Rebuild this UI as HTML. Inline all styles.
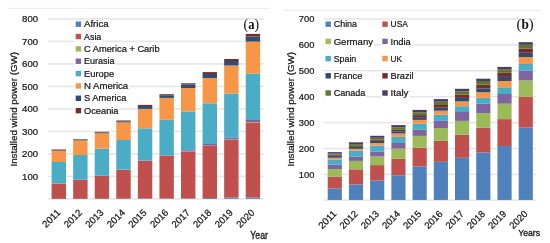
<!DOCTYPE html>
<html lang="en">
<head>
<meta charset="utf-8">
<title>Installed wind power</title>
<style>
html,body{margin:0;padding:0;background:#fff;}
body{width:550px;height:243px;overflow:hidden;}
svg{display:block;}
svg text{font-family:"Liberation Sans",sans-serif;font-size:9.5px;fill:#141414;stroke:#141414;stroke-width:0.22px;}
</style>
</head>
<body>
<svg width="550" height="243" viewBox="0 0 550 243">
<rect width="550" height="243" fill="#fff"/>
<rect x="8" y="7.8" width="262" height="1.3" fill="#eeeeee"/>
<rect x="48" y="18.1" width="215.6" height="1.6" fill="#e6e6e6"/>
<rect x="48" y="40.6" width="215.6" height="1.6" fill="#e6e6e6"/>
<rect x="48" y="63.1" width="215.6" height="1.6" fill="#e6e6e6"/>
<rect x="48" y="85.6" width="215.6" height="1.6" fill="#e6e6e6"/>
<rect x="48" y="108.1" width="215.6" height="1.6" fill="#e6e6e6"/>
<rect x="48" y="130.6" width="215.6" height="1.6" fill="#e6e6e6"/>
<rect x="48" y="153.1" width="215.6" height="1.6" fill="#e6e6e6"/>
<rect x="48" y="175.6" width="215.6" height="1.6" fill="#e6e6e6"/>
<rect x="48" y="198.1" width="215.6" height="1.6" fill="#e6e6e6"/>
<text x="38.1" y="22.3" text-anchor="end" textLength="16" lengthAdjust="spacingAndGlyphs" style="font-size:9.7px;">800</text>
<text x="38.1" y="44.8" text-anchor="end" textLength="16" lengthAdjust="spacingAndGlyphs" style="font-size:9.7px;">700</text>
<text x="38.1" y="67.3" text-anchor="end" textLength="16" lengthAdjust="spacingAndGlyphs" style="font-size:9.7px;">600</text>
<text x="38.1" y="89.8" text-anchor="end" textLength="16" lengthAdjust="spacingAndGlyphs" style="font-size:9.7px;">500</text>
<text x="38.1" y="112.3" text-anchor="end" textLength="16" lengthAdjust="spacingAndGlyphs" style="font-size:9.7px;">400</text>
<text x="38.1" y="134.8" text-anchor="end" textLength="16" lengthAdjust="spacingAndGlyphs" style="font-size:9.7px;">300</text>
<text x="38.1" y="157.3" text-anchor="end" textLength="16" lengthAdjust="spacingAndGlyphs" style="font-size:9.7px;">200</text>
<text x="38.1" y="179.8" text-anchor="end" textLength="16" lengthAdjust="spacingAndGlyphs" style="font-size:9.7px;">100</text>
<text transform="translate(17.4,109.3) rotate(-90)" text-anchor="middle" textLength="114.5" lengthAdjust="spacingAndGlyphs" style="font-size:9.2px">Installed wind power (GW)</text>
<rect x="51.6" y="183.6" width="14.4" height="15.25" fill="#C0504D"/>
<rect x="51.6" y="183.4" width="14.4" height="0.2" fill="#8064A2"/>
<rect x="51.6" y="162.0" width="14.4" height="21.4" fill="#4BACC6"/>
<rect x="51.6" y="150.8" width="14.4" height="11.2" fill="#F79646"/>
<rect x="51.6" y="150.2" width="14.4" height="0.6" fill="#2C4D75"/>
<rect x="51.6" y="149.5" width="14.4" height="0.7" fill="#772C2A"/>
<text transform="translate(61.05,213.2) rotate(-45)" text-anchor="end" textLength="21.2" lengthAdjust="spacingAndGlyphs" style="font-size:9.6px">2011</text>
<rect x="73.17" y="180.0" width="14.4" height="18.85" fill="#C0504D"/>
<rect x="73.17" y="179.8" width="14.4" height="0.2" fill="#8064A2"/>
<rect x="73.17" y="155.0" width="14.4" height="24.8" fill="#4BACC6"/>
<rect x="73.17" y="140.4" width="14.4" height="14.6" fill="#F79646"/>
<rect x="73.17" y="139.8" width="14.4" height="0.6" fill="#2C4D75"/>
<rect x="73.17" y="139.2" width="14.4" height="0.6" fill="#772C2A"/>
<text transform="translate(82.62,213.2) rotate(-45)" text-anchor="end" textLength="21.2" lengthAdjust="spacingAndGlyphs" style="font-size:9.6px">2012</text>
<rect x="94.74" y="198.75" width="14.4" height="0.1" fill="#4F81BD"/>
<rect x="94.74" y="176.0" width="14.4" height="22.75" fill="#C0504D"/>
<rect x="94.74" y="175.7" width="14.4" height="0.3" fill="#8064A2"/>
<rect x="94.74" y="148.7" width="14.4" height="27.0" fill="#4BACC6"/>
<rect x="94.74" y="133.3" width="14.4" height="15.4" fill="#F79646"/>
<rect x="94.74" y="132.5" width="14.4" height="0.8" fill="#2C4D75"/>
<rect x="94.74" y="131.8" width="14.4" height="0.7" fill="#772C2A"/>
<text transform="translate(104.19,213.2) rotate(-45)" text-anchor="end" textLength="21.2" lengthAdjust="spacingAndGlyphs" style="font-size:9.6px">2013</text>
<rect x="116.31" y="198.7" width="14.4" height="0.15" fill="#4F81BD"/>
<rect x="116.31" y="170.0" width="14.4" height="28.7" fill="#C0504D"/>
<rect x="116.31" y="169.9" width="14.4" height="0.1" fill="#9BBB59"/>
<rect x="116.31" y="169.6" width="14.4" height="0.3" fill="#8064A2"/>
<rect x="116.31" y="140.0" width="14.4" height="29.6" fill="#4BACC6"/>
<rect x="116.31" y="122.4" width="14.4" height="17.6" fill="#F79646"/>
<rect x="116.31" y="121.3" width="14.4" height="1.1" fill="#2C4D75"/>
<rect x="116.31" y="120.5" width="14.4" height="0.8" fill="#772C2A"/>
<text transform="translate(125.76,213.2) rotate(-45)" text-anchor="end" textLength="21.2" lengthAdjust="spacingAndGlyphs" style="font-size:9.6px">2014</text>
<rect x="137.88" y="198.6" width="14.4" height="0.25" fill="#4F81BD"/>
<rect x="137.88" y="161.0" width="14.4" height="37.6" fill="#C0504D"/>
<rect x="137.88" y="160.9" width="14.4" height="0.1" fill="#9BBB59"/>
<rect x="137.88" y="160.5" width="14.4" height="0.4" fill="#8064A2"/>
<rect x="137.88" y="128.3" width="14.4" height="32.2" fill="#4BACC6"/>
<rect x="137.88" y="108.9" width="14.4" height="19.4" fill="#F79646"/>
<rect x="137.88" y="106.0" width="14.4" height="2.9" fill="#2C4D75"/>
<rect x="137.88" y="104.9" width="14.4" height="1.1" fill="#772C2A"/>
<text transform="translate(147.33,213.2) rotate(-45)" text-anchor="end" textLength="21.2" lengthAdjust="spacingAndGlyphs" style="font-size:9.6px">2015</text>
<rect x="159.45" y="198.55" width="14.4" height="0.3" fill="#4F81BD"/>
<rect x="159.45" y="155.9" width="14.4" height="42.65" fill="#C0504D"/>
<rect x="159.45" y="155.8" width="14.4" height="0.1" fill="#9BBB59"/>
<rect x="159.45" y="155.3" width="14.4" height="0.5" fill="#8064A2"/>
<rect x="159.45" y="119.8" width="14.4" height="35.5" fill="#4BACC6"/>
<rect x="159.45" y="97.9" width="14.4" height="21.9" fill="#F79646"/>
<rect x="159.45" y="95.3" width="14.4" height="2.6" fill="#2C4D75"/>
<rect x="159.45" y="94.2" width="14.4" height="1.1" fill="#772C2A"/>
<text transform="translate(168.9,213.2) rotate(-45)" text-anchor="end" textLength="21.2" lengthAdjust="spacingAndGlyphs" style="font-size:9.6px">2016</text>
<rect x="181.02" y="198.35" width="14.4" height="0.5" fill="#4F81BD"/>
<rect x="181.02" y="151.5" width="14.4" height="46.85" fill="#C0504D"/>
<rect x="181.02" y="151.3" width="14.4" height="0.2" fill="#9BBB59"/>
<rect x="181.02" y="150.2" width="14.4" height="1.1" fill="#8064A2"/>
<rect x="181.02" y="111.5" width="14.4" height="38.7" fill="#4BACC6"/>
<rect x="181.02" y="88.0" width="14.4" height="23.5" fill="#F79646"/>
<rect x="181.02" y="84.6" width="14.4" height="3.4" fill="#2C4D75"/>
<rect x="181.02" y="83.3" width="14.4" height="1.3" fill="#772C2A"/>
<text transform="translate(190.47,213.2) rotate(-45)" text-anchor="end" textLength="21.2" lengthAdjust="spacingAndGlyphs" style="font-size:9.6px">2017</text>
<rect x="202.59" y="198.0" width="14.4" height="0.85" fill="#4F81BD"/>
<rect x="202.59" y="146.0" width="14.4" height="52.0" fill="#C0504D"/>
<rect x="202.59" y="145.7" width="14.4" height="0.3" fill="#9BBB59"/>
<rect x="202.59" y="144.0" width="14.4" height="1.7" fill="#8064A2"/>
<rect x="202.59" y="103.3" width="14.4" height="40.7" fill="#4BACC6"/>
<rect x="202.59" y="78.0" width="14.4" height="25.3" fill="#F79646"/>
<rect x="202.59" y="74.0" width="14.4" height="4.0" fill="#2C4D75"/>
<rect x="202.59" y="72.1" width="14.4" height="1.9" fill="#772C2A"/>
<text transform="translate(212.04,213.2) rotate(-45)" text-anchor="end" textLength="21.2" lengthAdjust="spacingAndGlyphs" style="font-size:9.6px">2018</text>
<rect x="224.16" y="197.45" width="14.4" height="1.4" fill="#4F81BD"/>
<rect x="224.16" y="139.8" width="14.4" height="57.65" fill="#C0504D"/>
<rect x="224.16" y="139.4" width="14.4" height="0.4" fill="#9BBB59"/>
<rect x="224.16" y="137.8" width="14.4" height="1.6" fill="#8064A2"/>
<rect x="224.16" y="93.5" width="14.4" height="44.3" fill="#4BACC6"/>
<rect x="224.16" y="65.5" width="14.4" height="28.0" fill="#F79646"/>
<rect x="224.16" y="61.0" width="14.4" height="4.5" fill="#2C4D75"/>
<rect x="224.16" y="59.0" width="14.4" height="2.0" fill="#772C2A"/>
<text transform="translate(233.61,213.2) rotate(-45)" text-anchor="end" textLength="21.2" lengthAdjust="spacingAndGlyphs" style="font-size:9.6px">2019</text>
<rect x="245.73" y="197.35" width="14.4" height="1.5" fill="#4F81BD"/>
<rect x="245.73" y="122.4" width="14.4" height="74.95" fill="#C0504D"/>
<rect x="245.73" y="122.0" width="14.4" height="0.4" fill="#9BBB59"/>
<rect x="245.73" y="120.0" width="14.4" height="2.0" fill="#8064A2"/>
<rect x="245.73" y="73.5" width="14.4" height="46.5" fill="#4BACC6"/>
<rect x="245.73" y="41.6" width="14.4" height="31.9" fill="#F79646"/>
<rect x="245.73" y="36.5" width="14.4" height="5.1" fill="#2C4D75"/>
<rect x="245.73" y="33.9" width="14.4" height="2.6" fill="#772C2A"/>
<text transform="translate(255.18,213.2) rotate(-45)" text-anchor="end" textLength="21.2" lengthAdjust="spacingAndGlyphs" style="font-size:9.6px">2020</text>
<rect x="74.6" y="19.9" width="35.3" height="9.6" fill="#fff"/>
<rect x="75.7" y="21.5" width="5.4" height="5.4" fill="#4F81BD"/>
<text x="84.0" y="27.3" textLength="24.7" lengthAdjust="spacingAndGlyphs">Africa</text>
<rect x="74.6" y="32.25" width="27.9" height="9.6" fill="#fff"/>
<rect x="75.7" y="33.85" width="5.4" height="5.4" fill="#C0504D"/>
<text x="84.0" y="39.65" textLength="17.3" lengthAdjust="spacingAndGlyphs">Asia</text>
<rect x="74.6" y="44.6" width="86.2" height="9.6" fill="#fff"/>
<rect x="75.7" y="46.2" width="5.4" height="5.4" fill="#9BBB59"/>
<text x="84.0" y="52.0" textLength="75.6" lengthAdjust="spacingAndGlyphs">C America + Carib</text>
<rect x="74.6" y="56.95" width="41.1" height="9.6" fill="#fff"/>
<rect x="75.7" y="58.55" width="5.4" height="5.4" fill="#8064A2"/>
<text x="84.0" y="64.35" textLength="30.5" lengthAdjust="spacingAndGlyphs">Eurasia</text>
<rect x="74.6" y="69.3" width="40.8" height="9.6" fill="#fff"/>
<rect x="75.7" y="70.9" width="5.4" height="5.4" fill="#4BACC6"/>
<text x="84.0" y="76.7" textLength="30.2" lengthAdjust="spacingAndGlyphs">Europe</text>
<rect x="74.6" y="81.65" width="54.8" height="9.6" fill="#fff"/>
<rect x="75.7" y="83.25" width="5.4" height="5.4" fill="#F79646"/>
<text x="84.0" y="89.05" textLength="44.2" lengthAdjust="spacingAndGlyphs">N America</text>
<rect x="74.6" y="94.0" width="53.0" height="9.6" fill="#fff"/>
<rect x="75.7" y="95.6" width="5.4" height="5.4" fill="#2C4D75"/>
<text x="84.0" y="101.4" textLength="42.4" lengthAdjust="spacingAndGlyphs">S America</text>
<rect x="74.6" y="106.35" width="45.1" height="9.6" fill="#fff"/>
<rect x="75.7" y="107.95" width="5.4" height="5.4" fill="#772C2A"/>
<text x="84.0" y="113.75" textLength="34.5" lengthAdjust="spacingAndGlyphs">Oceania</text>
<text x="250.3" y="238.6" textLength="17.6" lengthAdjust="spacingAndGlyphs" style="font-size:10px;stroke-width:0.32px">Year</text>
<text x="243.6" y="28.9" textLength="15.6" lengthAdjust="spacingAndGlyphs" style="font-family:'Liberation Serif',serif;font-size:15px;stroke:none;fill:#111">(<tspan style="font-weight:bold;font-size:13.6px">a</tspan>)</text>
<rect x="284" y="9.8" width="256.4" height="1.4" fill="#eeeeee"/>
<rect x="323.5" y="18.2" width="212.9" height="1.6" fill="#e6e6e6"/>
<rect x="323.5" y="44.1" width="212.9" height="1.6" fill="#e6e6e6"/>
<rect x="323.5" y="70.0" width="212.9" height="1.6" fill="#e6e6e6"/>
<rect x="323.5" y="95.9" width="212.9" height="1.6" fill="#e6e6e6"/>
<rect x="323.5" y="121.8" width="212.9" height="1.6" fill="#e6e6e6"/>
<rect x="323.5" y="147.7" width="212.9" height="1.6" fill="#e6e6e6"/>
<rect x="323.5" y="173.6" width="212.9" height="1.6" fill="#e6e6e6"/>
<rect x="323.5" y="199.5" width="212.9" height="1.6" fill="#e6e6e6"/>
<text x="314.4" y="22.4" text-anchor="end" textLength="15.6" lengthAdjust="spacingAndGlyphs" style="font-size:9.7px;">700</text>
<text x="314.4" y="48.3" text-anchor="end" textLength="15.6" lengthAdjust="spacingAndGlyphs" style="font-size:9.7px;">600</text>
<text x="314.4" y="74.2" text-anchor="end" textLength="15.6" lengthAdjust="spacingAndGlyphs" style="font-size:9.7px;">500</text>
<text x="314.4" y="100.1" text-anchor="end" textLength="15.6" lengthAdjust="spacingAndGlyphs" style="font-size:9.7px;">400</text>
<text x="314.4" y="126.0" text-anchor="end" textLength="15.6" lengthAdjust="spacingAndGlyphs" style="font-size:9.7px;">300</text>
<text x="314.4" y="151.9" text-anchor="end" textLength="15.6" lengthAdjust="spacingAndGlyphs" style="font-size:9.7px;">200</text>
<text x="314.4" y="177.8" text-anchor="end" textLength="15.6" lengthAdjust="spacingAndGlyphs" style="font-size:9.7px;">100</text>
<text transform="translate(294.2,109.3) rotate(-90)" text-anchor="middle" textLength="114.5" lengthAdjust="spacingAndGlyphs" style="font-size:9.2px">Installed wind power (GW)</text>
<rect x="327.7" y="188.4" width="14.15" height="11.55" fill="#4F81BD"/>
<rect x="327.7" y="176.9" width="14.15" height="11.5" fill="#C0504D"/>
<rect x="327.7" y="169.1" width="14.15" height="7.8" fill="#9BBB59"/>
<rect x="327.7" y="164.7" width="14.15" height="4.4" fill="#8064A2"/>
<rect x="327.7" y="159.5" width="14.15" height="5.2" fill="#4BACC6"/>
<rect x="327.7" y="157.7" width="14.15" height="1.8" fill="#F79646"/>
<rect x="327.7" y="155.6" width="14.15" height="2.1" fill="#2C4D75"/>
<rect x="327.7" y="154.8" width="14.15" height="0.8" fill="#772C2A"/>
<rect x="327.7" y="153.6" width="14.15" height="1.2" fill="#5F7530"/>
<rect x="327.7" y="152.1" width="14.15" height="1.5" fill="#4D3B62"/>
<text transform="translate(337.2,214.5) rotate(-45)" text-anchor="end" textLength="21.2" lengthAdjust="spacingAndGlyphs" style="font-size:9.6px">2011</text>
<rect x="348.92" y="184.5" width="14.15" height="15.45" fill="#4F81BD"/>
<rect x="348.92" y="169.3" width="14.15" height="15.2" fill="#C0504D"/>
<rect x="348.92" y="160.9" width="14.15" height="8.4" fill="#9BBB59"/>
<rect x="348.92" y="156.8" width="14.15" height="4.1" fill="#8064A2"/>
<rect x="348.92" y="150.7" width="14.15" height="6.1" fill="#4BACC6"/>
<rect x="348.92" y="148.8" width="14.15" height="1.9" fill="#F79646"/>
<rect x="348.92" y="146.8" width="14.15" height="2.0" fill="#2C4D75"/>
<rect x="348.92" y="145.9" width="14.15" height="0.9" fill="#772C2A"/>
<rect x="348.92" y="144.1" width="14.15" height="1.8" fill="#5F7530"/>
<rect x="348.92" y="142.3" width="14.15" height="1.8" fill="#4D3B62"/>
<text transform="translate(358.42,214.5) rotate(-45)" text-anchor="end" textLength="21.2" lengthAdjust="spacingAndGlyphs" style="font-size:9.6px">2012</text>
<rect x="370.14" y="180.5" width="14.15" height="19.45" fill="#4F81BD"/>
<rect x="370.14" y="165.1" width="14.15" height="15.4" fill="#C0504D"/>
<rect x="370.14" y="156.5" width="14.15" height="8.6" fill="#9BBB59"/>
<rect x="370.14" y="151.8" width="14.15" height="4.7" fill="#8064A2"/>
<rect x="370.14" y="145.5" width="14.15" height="6.3" fill="#4BACC6"/>
<rect x="370.14" y="143.0" width="14.15" height="2.5" fill="#F79646"/>
<rect x="370.14" y="140.8" width="14.15" height="2.2" fill="#2C4D75"/>
<rect x="370.14" y="139.8" width="14.15" height="1.0" fill="#772C2A"/>
<rect x="370.14" y="137.8" width="14.15" height="2.0" fill="#5F7530"/>
<rect x="370.14" y="135.8" width="14.15" height="2.0" fill="#4D3B62"/>
<text transform="translate(379.64,214.5) rotate(-45)" text-anchor="end" textLength="21.2" lengthAdjust="spacingAndGlyphs" style="font-size:9.6px">2013</text>
<rect x="391.36" y="175.3" width="14.15" height="24.65" fill="#4F81BD"/>
<rect x="391.36" y="158.9" width="14.15" height="16.4" fill="#C0504D"/>
<rect x="391.36" y="148.6" width="14.15" height="10.3" fill="#9BBB59"/>
<rect x="391.36" y="143.0" width="14.15" height="5.6" fill="#8064A2"/>
<rect x="391.36" y="136.9" width="14.15" height="6.1" fill="#4BACC6"/>
<rect x="391.36" y="133.5" width="14.15" height="3.4" fill="#F79646"/>
<rect x="391.36" y="131.3" width="14.15" height="2.2" fill="#2C4D75"/>
<rect x="391.36" y="129.8" width="14.15" height="1.5" fill="#772C2A"/>
<rect x="391.36" y="127.4" width="14.15" height="2.4" fill="#5F7530"/>
<rect x="391.36" y="125.1" width="14.15" height="2.3" fill="#4D3B62"/>
<text transform="translate(400.86,214.5) rotate(-45)" text-anchor="end" textLength="21.2" lengthAdjust="spacingAndGlyphs" style="font-size:9.6px">2014</text>
<rect x="412.58" y="166.4" width="14.15" height="33.55" fill="#4F81BD"/>
<rect x="412.58" y="147.6" width="14.15" height="18.8" fill="#C0504D"/>
<rect x="412.58" y="135.9" width="14.15" height="11.7" fill="#9BBB59"/>
<rect x="412.58" y="129.8" width="14.15" height="6.1" fill="#8064A2"/>
<rect x="412.58" y="123.8" width="14.15" height="6.0" fill="#4BACC6"/>
<rect x="412.58" y="119.9" width="14.15" height="3.9" fill="#F79646"/>
<rect x="412.58" y="117.2" width="14.15" height="2.7" fill="#2C4D75"/>
<rect x="412.58" y="115.1" width="14.15" height="2.1" fill="#772C2A"/>
<rect x="412.58" y="112.4" width="14.15" height="2.7" fill="#5F7530"/>
<rect x="412.58" y="109.9" width="14.15" height="2.5" fill="#4D3B62"/>
<text transform="translate(422.08,214.5) rotate(-45)" text-anchor="end" textLength="21.2" lengthAdjust="spacingAndGlyphs" style="font-size:9.6px">2015</text>
<rect x="433.8" y="161.8" width="14.15" height="38.15" fill="#4F81BD"/>
<rect x="433.8" y="140.9" width="14.15" height="20.9" fill="#C0504D"/>
<rect x="433.8" y="128.0" width="14.15" height="12.9" fill="#9BBB59"/>
<rect x="433.8" y="120.9" width="14.15" height="7.1" fill="#8064A2"/>
<rect x="433.8" y="114.7" width="14.15" height="6.2" fill="#4BACC6"/>
<rect x="433.8" y="110.7" width="14.15" height="4.0" fill="#F79646"/>
<rect x="433.8" y="107.7" width="14.15" height="3.0" fill="#2C4D75"/>
<rect x="433.8" y="105.0" width="14.15" height="2.7" fill="#772C2A"/>
<rect x="433.8" y="101.7" width="14.15" height="3.3" fill="#5F7530"/>
<rect x="433.8" y="99.1" width="14.15" height="2.6" fill="#4D3B62"/>
<text transform="translate(443.3,214.5) rotate(-45)" text-anchor="end" textLength="21.2" lengthAdjust="spacingAndGlyphs" style="font-size:9.6px">2016</text>
<rect x="455.02" y="157.8" width="14.15" height="42.15" fill="#4F81BD"/>
<rect x="455.02" y="134.9" width="14.15" height="22.9" fill="#C0504D"/>
<rect x="455.02" y="120.9" width="14.15" height="14.0" fill="#9BBB59"/>
<rect x="455.02" y="112.0" width="14.15" height="8.9" fill="#8064A2"/>
<rect x="455.02" y="106.2" width="14.15" height="5.8" fill="#4BACC6"/>
<rect x="455.02" y="101.4" width="14.15" height="4.8" fill="#F79646"/>
<rect x="455.02" y="97.9" width="14.15" height="3.5" fill="#2C4D75"/>
<rect x="455.02" y="94.7" width="14.15" height="3.2" fill="#772C2A"/>
<rect x="455.02" y="91.3" width="14.15" height="3.4" fill="#5F7530"/>
<rect x="455.02" y="88.8" width="14.15" height="2.5" fill="#4D3B62"/>
<text transform="translate(464.52,214.5) rotate(-45)" text-anchor="end" textLength="21.2" lengthAdjust="spacingAndGlyphs" style="font-size:9.6px">2017</text>
<rect x="476.24" y="152.5" width="14.15" height="47.45" fill="#4F81BD"/>
<rect x="476.24" y="127.8" width="14.15" height="24.7" fill="#C0504D"/>
<rect x="476.24" y="113.1" width="14.15" height="14.7" fill="#9BBB59"/>
<rect x="476.24" y="103.7" width="14.15" height="9.4" fill="#8064A2"/>
<rect x="476.24" y="97.8" width="14.15" height="5.9" fill="#4BACC6"/>
<rect x="476.24" y="92.2" width="14.15" height="5.6" fill="#F79646"/>
<rect x="476.24" y="88.4" width="14.15" height="3.8" fill="#2C4D75"/>
<rect x="476.24" y="84.7" width="14.15" height="3.7" fill="#772C2A"/>
<rect x="476.24" y="81.0" width="14.15" height="3.7" fill="#5F7530"/>
<rect x="476.24" y="78.7" width="14.15" height="2.3" fill="#4D3B62"/>
<text transform="translate(485.74,214.5) rotate(-45)" text-anchor="end" textLength="21.2" lengthAdjust="spacingAndGlyphs" style="font-size:9.6px">2018</text>
<rect x="497.46" y="146.0" width="14.15" height="53.95" fill="#4F81BD"/>
<rect x="497.46" y="119.1" width="14.15" height="26.9" fill="#C0504D"/>
<rect x="497.46" y="103.7" width="14.15" height="15.4" fill="#9BBB59"/>
<rect x="497.46" y="94.0" width="14.15" height="9.7" fill="#8064A2"/>
<rect x="497.46" y="87.3" width="14.15" height="6.7" fill="#4BACC6"/>
<rect x="497.46" y="81.0" width="14.15" height="6.3" fill="#F79646"/>
<rect x="497.46" y="76.9" width="14.15" height="4.1" fill="#2C4D75"/>
<rect x="497.46" y="72.8" width="14.15" height="4.1" fill="#772C2A"/>
<rect x="497.46" y="69.2" width="14.15" height="3.6" fill="#5F7530"/>
<rect x="497.46" y="66.9" width="14.15" height="2.3" fill="#4D3B62"/>
<text transform="translate(506.96,214.5) rotate(-45)" text-anchor="end" textLength="21.2" lengthAdjust="spacingAndGlyphs" style="font-size:9.6px">2019</text>
<rect x="518.68" y="127.6" width="14.15" height="72.35" fill="#4F81BD"/>
<rect x="518.68" y="96.9" width="14.15" height="30.7" fill="#C0504D"/>
<rect x="518.68" y="80.5" width="14.15" height="16.4" fill="#9BBB59"/>
<rect x="518.68" y="70.7" width="14.15" height="9.8" fill="#8064A2"/>
<rect x="518.68" y="64.0" width="14.15" height="6.7" fill="#4BACC6"/>
<rect x="518.68" y="57.1" width="14.15" height="6.9" fill="#F79646"/>
<rect x="518.68" y="52.8" width="14.15" height="4.3" fill="#2C4D75"/>
<rect x="518.68" y="48.5" width="14.15" height="4.3" fill="#772C2A"/>
<rect x="518.68" y="44.8" width="14.15" height="3.7" fill="#5F7530"/>
<rect x="518.68" y="42.2" width="14.15" height="2.6" fill="#4D3B62"/>
<text transform="translate(528.18,214.5) rotate(-45)" text-anchor="end" textLength="21.2" lengthAdjust="spacingAndGlyphs" style="font-size:9.6px">2020</text>
<rect x="324.4" y="19.9" width="33.6" height="9.6" fill="#fff"/>
<rect x="325.5" y="21.5" width="5.4" height="5.4" fill="#4F81BD"/>
<text x="333.7" y="27.4" textLength="23.4" lengthAdjust="spacingAndGlyphs">China</text>
<rect x="381.2" y="19.9" width="27.6" height="9.6" fill="#fff"/>
<rect x="382.3" y="21.5" width="5.4" height="5.4" fill="#C0504D"/>
<text x="390.59999999999997" y="27.4" textLength="17.3" lengthAdjust="spacingAndGlyphs">USA</text>
<rect x="324.4" y="37.1" width="49.5" height="9.6" fill="#fff"/>
<rect x="325.5" y="38.7" width="5.4" height="5.4" fill="#9BBB59"/>
<text x="333.7" y="44.6" textLength="39.3" lengthAdjust="spacingAndGlyphs">Germany</text>
<rect x="381.2" y="37.1" width="30.5" height="9.6" fill="#fff"/>
<rect x="382.3" y="38.7" width="5.4" height="5.4" fill="#8064A2"/>
<text x="390.59999999999997" y="44.6" textLength="20.2" lengthAdjust="spacingAndGlyphs">India</text>
<rect x="324.4" y="54.3" width="32.8" height="9.6" fill="#fff"/>
<rect x="325.5" y="55.9" width="5.4" height="5.4" fill="#4BACC6"/>
<text x="333.7" y="61.8" textLength="22.6" lengthAdjust="spacingAndGlyphs">Spain</text>
<rect x="381.2" y="54.3" width="21.8" height="9.6" fill="#fff"/>
<rect x="382.3" y="55.9" width="5.4" height="5.4" fill="#F79646"/>
<text x="390.59999999999997" y="61.8" textLength="11.5" lengthAdjust="spacingAndGlyphs">UK</text>
<rect x="324.4" y="71.5" width="38.8" height="9.6" fill="#fff"/>
<rect x="325.5" y="73.1" width="5.4" height="5.4" fill="#2C4D75"/>
<text x="333.7" y="79.0" textLength="28.6" lengthAdjust="spacingAndGlyphs">France</text>
<rect x="381.2" y="71.5" width="33.3" height="9.6" fill="#fff"/>
<rect x="382.3" y="73.1" width="5.4" height="5.4" fill="#772C2A"/>
<text x="390.59999999999997" y="79.0" textLength="23.0" lengthAdjust="spacingAndGlyphs">Brazil</text>
<rect x="324.4" y="88.7" width="41.8" height="9.6" fill="#fff"/>
<rect x="325.5" y="90.3" width="5.4" height="5.4" fill="#5F7530"/>
<text x="333.7" y="96.2" textLength="31.6" lengthAdjust="spacingAndGlyphs">Canada</text>
<rect x="381.2" y="88.7" width="28.2" height="9.6" fill="#fff"/>
<rect x="382.3" y="90.3" width="5.4" height="5.4" fill="#4D3B62"/>
<text x="390.59999999999997" y="96.2" textLength="17.9" lengthAdjust="spacingAndGlyphs">Italy</text>
<text x="518.2" y="235.8" textLength="21.8" lengthAdjust="spacingAndGlyphs" style="font-size:9.8px;stroke-width:0.32px">Years</text>
<text x="516.5" y="29.1" textLength="17.2" lengthAdjust="spacingAndGlyphs" style="font-family:'Liberation Serif',serif;font-size:15px;stroke:none;fill:#111">(<tspan style="font-weight:bold;font-size:13.6px">b</tspan>)</text>
</svg>
</body>
</html>
